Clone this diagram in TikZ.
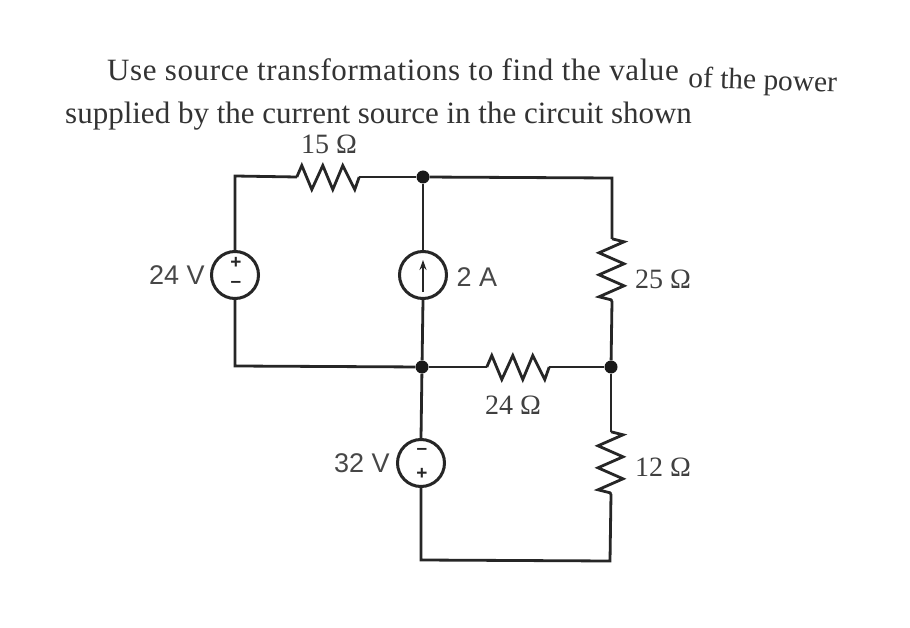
\documentclass[tikz,border=0pt]{standalone}
\usepackage{fontspec}
\usetikzlibrary{calc,arrows.meta}
\setmainfont{Liberation Serif}
\newfontfamily\lblsans{Liberation Sans}
\newcommand{\hzig}[1]{\draw[wire] (#1.west) -- ++(5,-11.5) -- ++(10,24) -- ++(11,-24) -- ++(10,24) -- ++(10,-24) -- ++(12,24) -- (#1.east);}
\newcommand{\vzig}[1]{\draw[wire] (#1.north) -- ++(12,3) -- ++(-25,11) -- ++(25,11) -- ++(-25,11) -- ++(25,11) -- ++(-25,11) -- ++(12,3) -- (#1.south);}
\tikzset{
  wire/.style={line width=2.8pt,draw=black!85,line join=miter},
  srcnode/.style={circle,draw=black!85,line width=3pt,minimum size=47pt,inner sep=0pt,fill=white},
  dotnode/.style={circle,fill=black!90,minimum size=13pt,inner sep=0pt},
  hres/.style={minimum width=62pt,minimum height=4pt,inner sep=0pt},
  vres/.style={minimum width=4pt,minimum height=62pt,inner sep=0pt},
  headline/.style={text=black!80,font=\fontsize{31}{31}\selectfont,inner sep=0pt},
  ohmlabel/.style={text=black!75,font=\fontsize{28}{28}\selectfont,inner sep=0pt},
  srclabel/.style={text=black!72,font=\lblsans\fontsize{27}{27}\selectfont,inner sep=0pt},
  polarity/.style={text=black!85,font=\lblsans\bfseries\fontsize{19}{19}\selectfont,inner sep=0pt}
}
\begin{document}
\begin{tikzpicture}[x=1pt,y=-1pt]
\useasboundingbox (0,0) rectangle (910,628);
\fill[white] (0,0) rectangle (910,628);
% text
\node[headline,anchor=base west] (t1) at (107,81) {\addfontfeature{LetterSpace=1.95}Use source transformations to find the value};
\node[headline,anchor=base west,rotate=-2,font=\fontsize{29.4}{29.4}\selectfont] (t2) at (688,87) {of the power};
\node[headline,anchor=base west] (t3) at (65,124) {supplied by the current source in the circuit shown};
% junctions and corners
\coordinate (tl) at (235,176);
\coordinate (tr) at (612,178);
\coordinate (bl) at (235,366);
\coordinate (bbl) at (421,560);
\coordinate (bbr) at (610,561);
\node[dotnode] (n1) at (423,177) {};
\node[dotnode] (n2) at (422,367) {};
\node[dotnode] (n3) at (611,367) {};
% sources
\node[srcnode] (v24) at (235,275) {};
\node[srcnode] (i2) at (423,275) {};
\node[srcnode] (v32) at (421,463) {};
% resistors
\node[hres] (r15) at (328,177) {};
\node[hres] (r24) at (518,367) {};
\node[vres] (r25) at (612,270) {};
\node[vres] (r12) at (611,463) {};
\hzig{r15}\hzig{r24}\vzig{r25}\vzig{r12}
% wires
\draw[wire] (v24.north) -- (tl) -- (r15.west);
\draw[wire] (r15.east) -- (n1);
\draw[wire] (n1) -- (tr) -- (r25.north);
\draw[wire] (n1) -- (i2.north);
\draw[wire] (i2.south) -- (n2);
\draw[wire] (v24.south) -- (bl) -- (n2);
\draw[wire] (n2) -- (r24.west);
\draw[wire] (r24.east) -- (n3);
\draw[wire] (r25.south) -- (n3);
\draw[wire] (n3) -- (r12.north);
\draw[wire] (n2) -- (v32.north);
\draw[wire] (v32.south) -- (bbl) -- (bbr) -- (r12.south);
% source marks
\node[polarity] (p1) at (236,263) {+};
\node[polarity] (m1) at (236,284) {\char"2013};
\node[polarity] (m2) at (422,451) {\char"2013};
\node[polarity] (p2) at (422,474) {+};
\coordinate (ia) at ($(i2)+(0,17)$);
\coordinate (ib) at ($(i2)+(0,-15)$);
\draw[line width=1.6pt,draw=black!85,-{Stealth[length=10pt,width=7pt]}] (ia) -- (ib);
% labels
\node[ohmlabel] (l15) at (329,144) {15 Ω};
\node[ohmlabel] (l24) at (513,405) {24 Ω};
\node[ohmlabel] (l25) at (663,279) {25 Ω};
\node[ohmlabel] (l12) at (663,467) {12 Ω};
\node[srclabel] (lv24) at (177,275) {24 V};
\node[srclabel] (lv32) at (362,463) {32 V};
\node[srclabel] (li2) at (477,277) {2 A};
\end{tikzpicture}
\end{document}
